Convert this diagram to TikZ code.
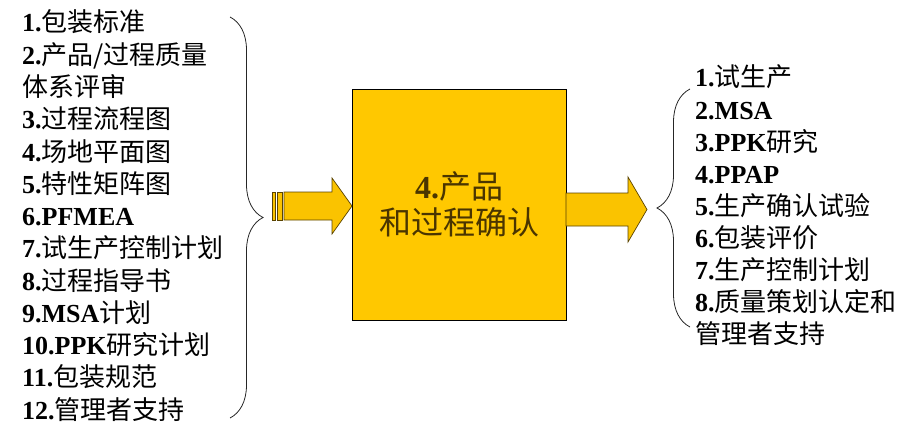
\documentclass[tikz,border=0pt]{standalone}
\usepackage{fontspec}
\setmainfont{Liberation Serif}
\newfontfamily\cjk{Noto Sans CJK SC}
\usetikzlibrary{decorations.pathreplacing}
\definecolor{gold}{HTML}{FFC800}
\definecolor{arrowgold}{HTML}{FAC300}
\definecolor{edgebrown}{HTML}{5A4300}
\definecolor{boxtext}{HTML}{4A3500}
\newcommand{\zh}[1]{{\cjk #1}}
\newcommand{\nb}[1]{\textbf{#1}}
\tikzset{
    item/.style={anchor=base west, inner sep=0pt, font=\fontsize{26}{32}\selectfont}, % 列表的每一行
    curly/.style={decorate, decoration={brace, amplitude=33pt}, line width=0.8pt, black!85}, % 大括号
    block/.style={fill=arrowgold, draw=edgebrown, line width=0.7pt} % 箭头
}

\begin{document}
\begin{tikzpicture}[x=1pt, y=-1pt]
    \useasboundingbox (0,0) rectangle (924,441);

    \node[draw=black, line width=0.9pt, fill=gold, minimum width=214pt, minimum height=231pt, align=center, text=boxtext, font=\fontsize{32}{36}\selectfont] (box) at (459,204.5) {\nb{4.}\zh{产品}\\\zh{和过程确认}};

    \foreach \t [count=\i] in {{\nb{1.}\zh{包装标准}}, {\nb{2.}\zh{产品/过程质量}}, {\zh{体系评审}}, {\nb{3.}\zh{过程流程图}}, {\nb{4.}\zh{场地平面图}}, {\nb{5.}\zh{特性矩阵图}}, {\nb{6.PFMEA}}, {\nb{7.}\zh{试生产控制计划}}, {\nb{8.}\zh{过程指导书}}, {\nb{9.MSA}\zh{计划}}, {\nb{10.PPK}\zh{研究计划}}, {\nb{11.}\zh{包装规范}}, {\nb{12.}\zh{管理者支持}}}
        {\node[item] (in\i) at (22, 32.25*\i-0.25) {\t};}

    \foreach \t [count=\i] in {{\nb{1.}\zh{试生产}}, {\nb{2.MSA}}, {\nb{3.PPK}\zh{研究}}, {\nb{4.PPAP}}, {\nb{5.}\zh{生产确认试验}}, {\nb{6.}\zh{包装评价}}, {\nb{7.}\zh{生产控制计划}}, {\nb{8.}\zh{质量策划认定和}}, {\zh{管理者支持}}}
        {\node[item] (out\i) at (695, 32.1*\i+54.9) {\t};}

    \draw[curly] (230,17) -- (230,418);
    \draw[curly] (690,327) -- (690,89);

    % 输入箭头
    \draw[block] (272,192) rectangle (275,220);
    \draw[block] (277,192) rectangle (282,220);
    \draw[block] (284,192) -- (332,192) -- (332,178) -- (352,206) -- (332,234) -- (332,220) -- (284,220) -- cycle;
    % 输出箭头
    \draw[block] (566,193) -- (628,193) -- (628,177) -- (647,209.5) -- (628,242) -- (628,226) -- (566,226) -- cycle;
\end{tikzpicture}
\end{document}
